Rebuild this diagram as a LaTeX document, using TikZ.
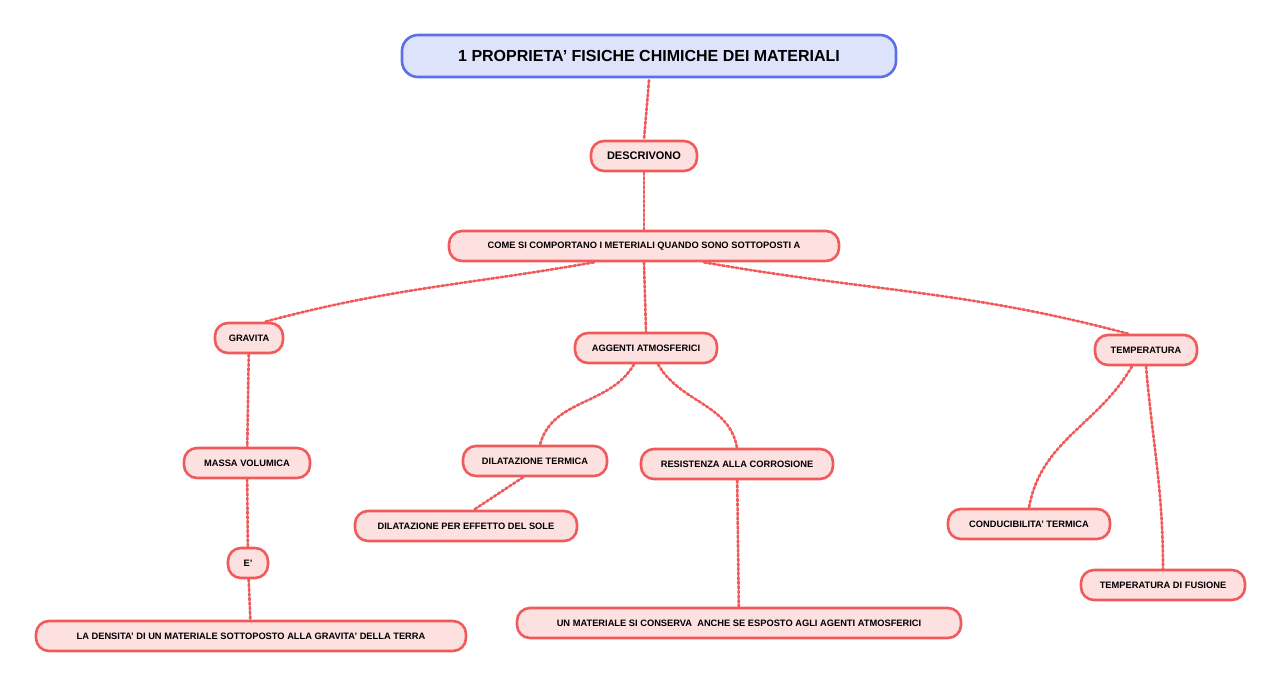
\documentclass[tikz,border=0pt]{standalone}
\usepackage{fontspec}
\setmainfont{Liberation Sans}
\begin{document}
\begin{tikzpicture}[x=1pt,y=-1pt,
  box/.style={draw=boxline,fill=boxfill,line width=2.6pt,rounded corners=13pt,
    minimum height=30pt,inner xsep=8pt,font=\bfseries\fontsize{9.3}{11}\selectfont},
  conn/.style={draw=boxline,line width=2.6pt,dotted,line cap=round}]
\definecolor{boxline}{HTML}{F05A5A}
\definecolor{boxfill}{HTML}{FDE0E0}
\definecolor{tline}{HTML}{5B6FE8}
\definecolor{tfill}{HTML}{DDE3FB}
\useasboundingbox (0,0) rectangle (1280,686);
\node[draw=tline,fill=tfill,line width=2.6pt,rounded corners=16pt,minimum height=42pt,
  minimum width=494pt,font=\bfseries\fontsize{16}{19}\selectfont] (title) at (649,56) {1 PROPRIETA' FISICHE CHIMICHE DEI MATERIALI};
\node[box,minimum width=106pt,font=\bfseries\fontsize{11}{13}\selectfont] (desc) at (644,156) {DESCRIVONO};
\node[box,minimum width=390pt] (come) at (644,246) {COME SI COMPORTANO I METERIALI QUANDO SONO SOTTOPOSTI A};
\node[box,minimum width=68pt] (grav) at (249,338) {GRAVITA};
\node[box,minimum width=142pt] (agg) at (646,348) {AGGENTI ATMOSFERICI};
\node[box,minimum width=102pt] (temp) at (1146,350) {TEMPERATURA};
\node[box,minimum width=126pt] (massa) at (247,463) {MASSA VOLUMICA};
\node[box,minimum width=144pt] (dil) at (535,461) {DILATAZIONE TERMICA};
\node[box,minimum width=192pt] (res) at (737,464) {RESISTENZA ALLA CORROSIONE};
\node[box,minimum width=222pt] (sole) at (466,526) {DILATAZIONE PER EFFETTO DEL SOLE};
\node[box,minimum width=40pt] (e) at (248,563) {E'};
\node[box,minimum width=430pt] (dens) at (251,636) {LA DENSITA' DI UN MATERIALE SOTTOPOSTO ALLA GRAVITA' DELLA TERRA};
\node[box,minimum width=444pt] (unmat) at (739,623) {UN MATERIALE SI CONSERVA\ \ ANCHE SE ESPOSTO AGLI AGENTI ATMOSFERICI};
\node[box,minimum width=162pt] (cond) at (1029,524) {CONDUCIBILITA' TERMICA};
\node[box,minimum width=164pt] (fus) at (1163,585) {TEMPERATURA DI FUSIONE};

\draw[conn] (title.south) ++(0,2) coordinate (t1) (t1) -- (desc.north);
\draw[conn] (desc) -- (come);
\draw[conn] ([xshift=-50pt]come.south) to[out=190,in=15] ([xshift=16pt]grav.north);
\draw[conn] (come.south) -- (agg.north);
\draw[conn] ([xshift=60pt]come.south) to[out=-10,in=165] ([xshift=-18pt]temp.north);
\draw[conn] (grav) -- (massa);
\draw[conn] (massa) -- (e);
\draw[conn] (e) -- (dens);
\draw[conn] ([xshift=-12pt]agg.south) to[out=-120,in=75] ([xshift=5pt]dil.north);
\draw[conn] ([xshift=12pt]agg.south) to[out=-60,in=100] (res.north);
\draw[conn] ([xshift=-12pt]dil.south) -- ([xshift=8pt]sole.north);
\draw[conn] (res) -- (unmat);
\draw[conn] ([xshift=-14pt]temp.south) to[out=-120,in=80] (cond.north);
\draw[conn] (temp.south) to[out=-85,in=90] (fus.north);
\end{tikzpicture}
\end{document}
